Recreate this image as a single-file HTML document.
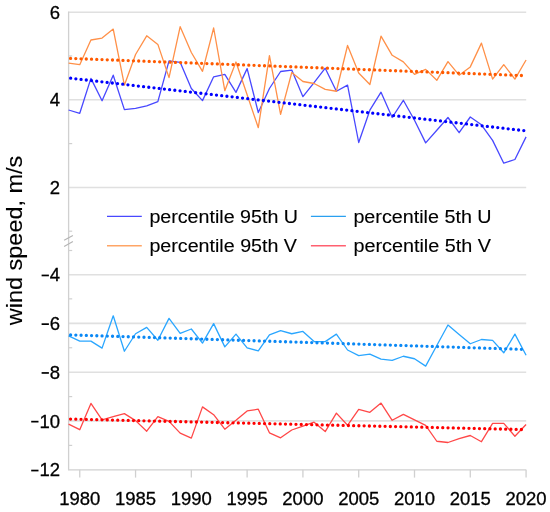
<!DOCTYPE html>
<html><head><meta charset="utf-8"><style>
html,body{margin:0;padding:0;background:#fff;}
svg{display:block;font-family:"Liberation Sans",sans-serif;will-change:transform;}
text{stroke:#000;stroke-width:0.3px;}
text.l{stroke-width:0.12px;}
</style></head><body>
<svg width="550" height="512" viewBox="0 0 550 512">
<rect width="550" height="512" fill="#fff"/>
<line x1="68.6" y1="12.2" x2="526.2" y2="12.2" stroke="#e0e0e0" stroke-width="1.6"/>
<line x1="68.6" y1="99.8" x2="526.2" y2="99.8" stroke="#e0e0e0" stroke-width="1.6"/>
<line x1="68.6" y1="187.5" x2="526.2" y2="187.5" stroke="#e0e0e0" stroke-width="1.6"/>
<line x1="68.6" y1="274.7" x2="526.2" y2="274.7" stroke="#e0e0e0" stroke-width="1.6"/>
<line x1="68.6" y1="323.4" x2="526.2" y2="323.4" stroke="#e0e0e0" stroke-width="1.6"/>
<line x1="68.6" y1="372.2" x2="526.2" y2="372.2" stroke="#e0e0e0" stroke-width="1.6"/>
<line x1="68.6" y1="420.9" x2="526.2" y2="420.9" stroke="#e0e0e0" stroke-width="1.6"/>
<line x1="68.0" y1="469.8" x2="526.2" y2="469.8" stroke="#d0d0d0" stroke-width="1.3"/>
<line x1="68.6" y1="11.5" x2="68.6" y2="469.8" stroke="#d0d0d0" stroke-width="1.3"/>
<line x1="79.76" y1="469.8" x2="79.76" y2="477.6" stroke="#d0d0d0" stroke-width="1.3"/>
<line x1="135.55" y1="469.8" x2="135.55" y2="477.6" stroke="#d0d0d0" stroke-width="1.3"/>
<line x1="191.34" y1="469.8" x2="191.34" y2="477.6" stroke="#d0d0d0" stroke-width="1.3"/>
<line x1="247.13" y1="469.8" x2="247.13" y2="477.6" stroke="#d0d0d0" stroke-width="1.3"/>
<line x1="302.92" y1="469.8" x2="302.92" y2="477.6" stroke="#d0d0d0" stroke-width="1.3"/>
<line x1="358.71" y1="469.8" x2="358.71" y2="477.6" stroke="#d0d0d0" stroke-width="1.3"/>
<line x1="414.50" y1="469.8" x2="414.50" y2="477.6" stroke="#d0d0d0" stroke-width="1.3"/>
<line x1="470.29" y1="469.8" x2="470.29" y2="477.6" stroke="#d0d0d0" stroke-width="1.3"/>
<line x1="526.08" y1="469.8" x2="526.08" y2="477.6" stroke="#d0d0d0" stroke-width="1.3"/>
<line x1="68.6" y1="55.95" x2="72.19999999999999" y2="55.95" stroke="#d0d0d0" stroke-width="1.2"/>
<line x1="68.6" y1="143.60" x2="72.19999999999999" y2="143.60" stroke="#d0d0d0" stroke-width="1.2"/>
<line x1="68.6" y1="231.20" x2="72.19999999999999" y2="231.20" stroke="#d0d0d0" stroke-width="1.2"/>
<line x1="68.6" y1="250.50" x2="72.19999999999999" y2="250.50" stroke="#d0d0d0" stroke-width="1.2"/>
<line x1="68.6" y1="298.85" x2="72.19999999999999" y2="298.85" stroke="#d0d0d0" stroke-width="1.2"/>
<line x1="68.6" y1="347.75" x2="72.19999999999999" y2="347.75" stroke="#d0d0d0" stroke-width="1.2"/>
<line x1="68.6" y1="396.60" x2="72.19999999999999" y2="396.60" stroke="#d0d0d0" stroke-width="1.2"/>
<line x1="68.6" y1="445.40" x2="72.19999999999999" y2="445.40" stroke="#d0d0d0" stroke-width="1.2"/>
<line x1="64.1" y1="240.3" x2="72.9" y2="235.4" stroke="#b4b4b4" stroke-width="1.1"/>
<line x1="64.1" y1="246.4" x2="72.9" y2="241.4" stroke="#b4b4b4" stroke-width="1.1"/>
<polyline fill="none" stroke="#4848ff" stroke-width="1.3" stroke-linejoin="round" points="68.60,110.00 79.76,113.30 90.92,78.40 102.07,100.70 113.23,75.20 124.39,109.60 135.55,108.40 146.71,105.80 157.86,101.60 169.02,60.80 180.18,62.30 191.34,88.50 202.50,100.60 213.65,76.80 224.81,74.30 235.97,92.40 247.13,68.60 258.29,112.50 269.44,88.50 280.60,71.50 291.76,70.10 302.92,96.70 314.08,82.60 325.23,68.20 336.39,91.25 347.55,85.10 358.71,142.50 369.87,110.20 381.02,92.20 392.18,117.50 403.34,100.30 414.50,120.30 425.66,142.90 436.81,130.30 447.97,117.50 459.13,132.70 470.29,117.00 481.45,124.80 492.60,140.40 503.76,163.20 514.92,159.50 526.08,136.90"/>
<polyline fill="none" stroke="#2aa6ff" stroke-width="1.3" stroke-linejoin="round" points="68.60,335.90 79.76,341.10 90.92,341.10 102.07,348.10 113.23,315.80 124.39,351.25 135.55,333.75 146.71,327.40 157.86,340.30 169.02,318.40 180.18,333.30 191.34,329.00 202.50,343.10 213.65,323.60 224.81,346.90 235.97,334.10 247.13,347.80 258.29,350.90 269.44,334.80 280.60,330.60 291.76,333.75 302.92,331.40 314.08,341.60 325.23,341.60 336.39,334.10 347.55,350.00 358.71,355.70 369.87,354.10 381.02,359.10 392.18,360.30 403.34,356.25 414.50,358.75 425.66,366.10 436.81,345.50 447.97,325.00 459.13,334.40 470.29,343.75 481.45,339.50 492.60,340.40 503.76,352.80 514.92,334.10 526.08,355.20"/>
<polyline fill="none" stroke="#ff9048" stroke-width="1.3" stroke-linejoin="round" points="68.60,63.10 79.76,64.70 90.92,40.00 102.07,38.10 113.23,29.10 124.39,85.20 135.55,54.50 146.71,35.80 157.86,44.40 169.02,77.60 180.18,26.70 191.34,52.50 202.50,71.30 213.65,28.00 224.81,90.70 235.97,62.00 247.13,94.80 258.29,127.70 269.44,55.60 280.60,114.40 291.76,72.50 302.92,81.50 314.08,83.50 325.23,89.30 336.39,91.25 347.55,45.50 358.71,73.00 369.87,84.50 381.02,36.10 392.18,55.30 403.34,61.90 414.50,74.40 425.66,69.40 436.81,80.30 447.97,61.60 459.13,75.20 470.29,66.90 481.45,43.10 492.60,79.10 503.76,64.70 514.92,79.10 526.08,60.00"/>
<polyline fill="none" stroke="#ff4848" stroke-width="1.3" stroke-linejoin="round" points="68.60,424.10 79.76,429.70 90.92,403.40 102.07,419.80 113.23,416.70 124.39,413.60 135.55,420.60 146.71,431.20 157.86,416.70 169.02,421.40 180.18,433.10 191.34,438.10 202.50,406.90 213.65,414.70 224.81,429.20 235.97,420.30 247.13,410.90 258.29,409.20 269.44,432.80 280.60,437.80 291.76,430.00 302.92,426.10 314.08,422.20 325.23,431.60 336.39,413.10 347.55,425.30 358.71,409.30 369.87,412.30 381.02,403.10 392.18,420.30 403.34,414.40 414.50,419.80 425.66,425.30 436.81,441.25 447.97,442.50 459.13,438.60 470.29,435.50 481.45,441.70 492.60,423.30 503.76,423.30 514.92,436.25 526.08,424.50"/>
<line x1="70.55" y1="58.4" x2="521.4" y2="75.5" stroke="#ff5a00" stroke-width="3.3" stroke-linecap="round" stroke-dasharray="0 5.2462"/>
<line x1="70.65" y1="78.2" x2="523.8" y2="130.6" stroke="#0000ff" stroke-width="3.3" stroke-linecap="round" stroke-dasharray="0 5.2433"/>
<line x1="70.6" y1="334.9" x2="521.4" y2="349.3" stroke="#0a88f5" stroke-width="3.3" stroke-linecap="round" stroke-dasharray="0 5.2445"/>
<line x1="70.55" y1="419.1" x2="521.4" y2="429.5" stroke="#ff0000" stroke-width="3.3" stroke-linecap="round" stroke-dasharray="0 5.2438"/>
<text x="60.0" y="18.8" font-size="18.5" text-anchor="end" fill="#000">6</text>
<text x="60.0" y="106.4" font-size="18.5" text-anchor="end" fill="#000">4</text>
<text x="60.0" y="194.1" font-size="18.5" text-anchor="end" fill="#000">2</text>
<text x="60.0" y="281.3" font-size="18.5" text-anchor="end" fill="#000">4</text>
<rect x="41.6" y="274.60" width="7.3" height="1.7" fill="#000"/>
<text x="60.0" y="330.0" font-size="18.5" text-anchor="end" fill="#000">6</text>
<rect x="41.6" y="323.30" width="7.3" height="1.7" fill="#000"/>
<text x="60.0" y="378.8" font-size="18.5" text-anchor="end" fill="#000">8</text>
<rect x="41.6" y="372.10" width="7.3" height="1.7" fill="#000"/>
<text x="60.0" y="427.5" font-size="18.5" text-anchor="end" fill="#000">10</text>
<rect x="31.2" y="420.80" width="7.3" height="1.7" fill="#000"/>
<text x="60.0" y="476.4" font-size="18.5" text-anchor="end" fill="#000">12</text>
<rect x="31.2" y="469.70" width="7.3" height="1.7" fill="#000"/>
<text x="79.76" y="504.6" font-size="18.5" text-anchor="middle" fill="#000">1980</text>
<text x="135.55" y="504.6" font-size="18.5" text-anchor="middle" fill="#000">1985</text>
<text x="191.34" y="504.6" font-size="18.5" text-anchor="middle" fill="#000">1990</text>
<text x="247.13" y="504.6" font-size="18.5" text-anchor="middle" fill="#000">1995</text>
<text x="302.92" y="504.6" font-size="18.5" text-anchor="middle" fill="#000">2000</text>
<text x="358.71" y="504.6" font-size="18.5" text-anchor="middle" fill="#000">2005</text>
<text x="414.50" y="504.6" font-size="18.5" text-anchor="middle" fill="#000">2010</text>
<text x="470.29" y="504.6" font-size="18.5" text-anchor="middle" fill="#000">2015</text>
<text x="526.08" y="504.6" font-size="18.5" text-anchor="middle" fill="#000">2020</text>
<text class="l" transform="translate(21.8,325.2) rotate(-90)" font-size="21.5" textLength="169.5" lengthAdjust="spacingAndGlyphs" fill="#000">wind speed, m/s</text>
<line x1="107" y1="216.4" x2="141.8" y2="216.4" stroke="#4848ff" stroke-width="1.4"/>
<line x1="107" y1="245.7" x2="141.8" y2="245.7" stroke="#ffa566" stroke-width="1.4"/>
<line x1="310.9" y1="216.4" x2="345.9" y2="216.4" stroke="#2aa0f0" stroke-width="1.4"/>
<line x1="310.9" y1="245.7" x2="345.9" y2="245.7" stroke="#ff6070" stroke-width="1.4"/>
<text class="l" x="149.4" y="222.7" font-size="18" textLength="148.6" lengthAdjust="spacingAndGlyphs">percentile 95th U</text>
<text class="l" x="149.4" y="252.2" font-size="18" textLength="147.6" lengthAdjust="spacingAndGlyphs">percentile 95th V</text>
<text class="l" x="353.4" y="222.7" font-size="18" textLength="138.2" lengthAdjust="spacingAndGlyphs">percentile 5th U</text>
<text class="l" x="353.4" y="252.2" font-size="18" textLength="137.6" lengthAdjust="spacingAndGlyphs">percentile 5th V</text>
</svg></body></html>
